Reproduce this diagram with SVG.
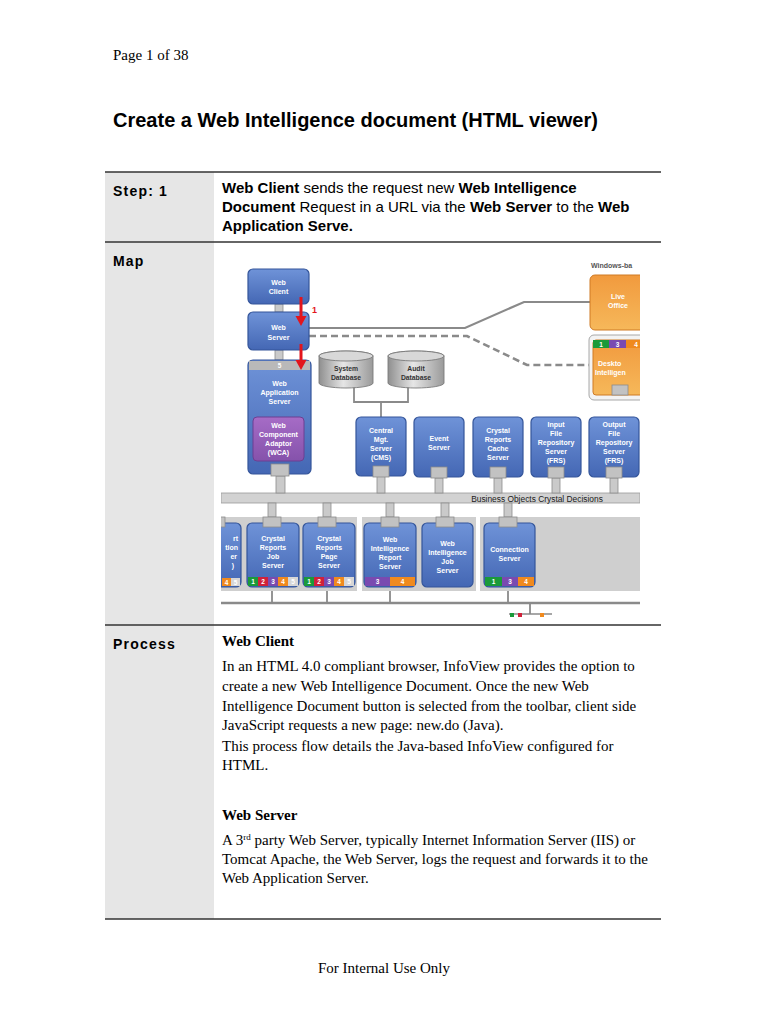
<svg xmlns="http://www.w3.org/2000/svg" width="768" height="1024" viewBox="0 0 768 1024">
<defs>
<linearGradient id="blueG" x1="0" y1="0" x2="0" y2="1"><stop offset="0" stop-color="#6f93d8"/><stop offset="1" stop-color="#4467b4"/></linearGradient>
<linearGradient id="purpleG" x1="0" y1="0" x2="0" y2="1"><stop offset="0" stop-color="#a66cc6"/><stop offset="1" stop-color="#8552ab"/></linearGradient>
<linearGradient id="orangeG" x1="0" y1="0" x2="0" y2="1"><stop offset="0" stop-color="#f19a3e"/><stop offset="1" stop-color="#f6b85a"/></linearGradient>
<linearGradient id="cylG" x1="0" y1="0" x2="1" y2="0"><stop offset="0" stop-color="#8f8f8f"/><stop offset="0.45" stop-color="#e6e6e6"/><stop offset="1" stop-color="#9a9a9a"/></linearGradient>
<clipPath id="mapClip"><rect x="221" y="253" width="419" height="368"/></clipPath>
</defs>
<style>
.box{fill:url(#blueG);stroke:#34559a;stroke-width:1.2}
.wca{fill:url(#purpleG);stroke:#6d3f92;stroke-width:1}
.org{fill:url(#orangeG);stroke:#cf7a25;stroke-width:1}
.lbl{font-family:"Liberation Sans",Arial,sans-serif;font-weight:bold;font-size:7px;fill:#ffffff;text-anchor:middle}
.lbls{font-family:"Liberation Sans",Arial,sans-serif;font-weight:bold;font-size:7px;fill:#ffffff;text-anchor:start}
.lble{font-family:"Liberation Sans",Arial,sans-serif;font-weight:bold;font-size:7px;fill:#ffffff;text-anchor:end}
.tab{font-family:"Liberation Sans",Arial,sans-serif;font-weight:bold;font-size:6.5px;fill:#ffffff;text-anchor:middle}
.dbl{font-family:"Liberation Sans",Arial,sans-serif;font-weight:bold;font-size:6.8px;fill:#333;text-anchor:middle}
.stub{fill:#c2c2c2;stroke:#8c8c8c;stroke-width:0.8}
.pole{fill:#cacaca;stroke:#8c8c8c;stroke-width:0.8}
.ln{stroke:#8a8a8a;stroke-width:2.2;fill:none}
.dash{stroke:#8a8a8a;stroke-width:2.6;fill:none;stroke-dasharray:7 4}
.thin{stroke:#8a8a8a;stroke-width:1.8;fill:none}
.red{stroke:#e3151c;stroke-width:3;fill:none}
.redhead{fill:#e3151c}
.panel{fill:#cfcfcf}
.serif{font-family:"Liberation Serif","Times New Roman",serif;font-size:15px;fill:#000}
.sans{font-family:"Liberation Sans",Arial,sans-serif;font-size:15px;fill:#000}
.head{font-family:"Liberation Sans",Arial,sans-serif;font-weight:bold;font-size:14px;fill:#000;letter-spacing:1.2px}
.rule{stroke:#333;stroke-width:1.5}
</style>
<rect width="768" height="1024" fill="#ffffff"/>
<text class="serif" x="113" y="60" font-size="14">Page 1 of 38</text>
<text x="113" y="127" font-family="Liberation Sans, Arial, sans-serif" font-weight="bold" font-size="20" fill="#000">Create a Web Intelligence document (HTML viewer)</text>
<rect x="105" y="172" width="109" height="747" fill="#e6e6e6"/>
<line class="rule" x1="105" y1="172" x2="661" y2="172"/>
<line class="rule" x1="105" y1="242" x2="661" y2="242"/>
<line class="rule" x1="105" y1="625" x2="661" y2="625"/>
<line class="rule" x1="105" y1="919" x2="661" y2="919"/>
<text class="head" x="113" y="196">Step: 1</text>
<text class="head" x="113" y="266">Map</text>
<text class="head" x="113" y="649">Process</text>
<text class="sans" x="222" y="193"><tspan font-weight="bold">Web Client</tspan> sends the request new <tspan font-weight="bold">Web Intelligence</tspan></text>
<text class="sans" x="222" y="212"><tspan font-weight="bold">Document</tspan> Request in a URL via the <tspan font-weight="bold">Web Server</tspan> to the <tspan font-weight="bold">Web</tspan></text>
<text class="sans" x="222" y="231" font-weight="bold">Application Serve.</text>
<text class="serif" x="222" y="646" font-weight="bold">Web Client</text>
<text class="serif" x="222" y="671">In an HTML 4.0 compliant browser, InfoView provides the option to</text>
<text class="serif" x="222" y="691">create a new Web Intelligence Document. Once the new Web</text>
<text class="serif" x="222" y="711">Intelligence Document button is selected from the toolbar, client side</text>
<text class="serif" x="222" y="730">JavaScript requests a new page: new.do (Java).</text>
<text class="serif" x="222" y="751">This process flow details the Java-based InfoView configured for</text>
<text class="serif" x="222" y="770">HTML.</text>
<text class="serif" x="222" y="820" font-weight="bold">Web Server</text>
<text class="serif" x="222" y="845">A 3<tspan font-size="9" dy="-5">rd</tspan><tspan dy="5"> party Web Server, typically Internet Information Server (IIS) or</tspan></text>
<text class="serif" x="222" y="864">Tomcat Apache, the Web Server, logs the request and forwards it to the</text>
<text class="serif" x="222" y="883">Web Application Server.</text>
<text class="serif" x="384" y="973" font-size="14" text-anchor="middle">For Internal Use Only</text>

<g id="map" clip-path="url(#mapClip)">
<rect x="221" y="253" width="419" height="368" fill="#ffffff"/>
<rect class="panel" x="221" y="517" width="136" height="74"/>
<rect class="panel" x="362" y="517" width="114" height="74"/>
<rect class="panel" x="480" y="517" width="160" height="74"/>
<g id="bus">
<rect x="221" y="493" width="419" height="10" fill="#d2d2d2" stroke="#9a9a9a" stroke-width="0.8"/>
<text x="537" y="501.5" font-family="Liberation Sans, Arial, sans-serif" font-size="8.4" fill="#1a1a1a" text-anchor="middle">Business Objects Crystal Decisions</text>
</g>
<g id="connectors">
<polyline class="ln" points="309,328 465,328 524,302 590,302"/>
<polyline class="dash" points="309,336 467,336 527,365 593,365"/>
<polyline class="thin" points="354,385 354,402 408,402 408,385"/>
<line class="thin" x1="381" y1="402" x2="381" y2="417"/>
<line x1="221" y1="603" x2="640" y2="603" stroke="#8a8a8a" stroke-width="2.6"/>
<line class="thin" x1="272" y1="591" x2="272" y2="603"/>
<line class="thin" x1="327" y1="591" x2="327" y2="603"/>
<line class="thin" x1="390" y1="591" x2="390" y2="603"/>
<line class="thin" x1="508" y1="591" x2="508" y2="603"/>
<line class="thin" x1="530" y1="603" x2="530" y2="614"/>
<line x1="509" y1="614" x2="552" y2="614" stroke="#8a8a8a" stroke-width="1.5"/>
<rect x="510" y="613" width="4" height="4" fill="#1a9a3a"/>
<rect x="518" y="613" width="4" height="4" fill="#d0213a"/>
<rect x="540" y="613" width="4" height="4" fill="#f08a1e"/>
<rect class="pole" x="275" y="304" width="8" height="8"/>
<rect class="pole" x="275" y="350" width="8" height="10"/>
<rect class="pole" x="276" y="476" width="9" height="17"/>
<rect class="pole" x="377" y="476" width="8" height="17"/>
<rect class="pole" x="435" y="478" width="8" height="15"/>
<rect class="pole" x="494" y="478" width="8" height="15"/>
<rect class="pole" x="552" y="478" width="8" height="15"/>
<rect class="pole" x="610" y="478" width="8" height="15"/>
<rect class="pole" x="212" y="503" width="8" height="14"/>
<rect class="pole" x="268" y="503" width="8" height="14"/>
<rect class="pole" x="323" y="503" width="8" height="14"/>
<rect class="pole" x="386" y="503" width="8" height="14"/>
<rect class="pole" x="441" y="503" width="8" height="14"/>
<rect class="pole" x="504" y="503" width="8" height="14"/>
</g>
<text x="591" y="268" font-family="Liberation Sans, Arial, sans-serif" font-weight="bold" font-size="7" fill="#555">Windows-ba</text>
<g id="web-client">
<rect class="box" x="248" y="269" width="61" height="35" rx="5"/>
<text class="lbl" x="278.5" y="285">Web</text>
<text class="lbl" x="278.5" y="294">Client</text>
</g>
<g id="web-server">
<rect class="box" x="248" y="312" width="61" height="38" rx="5"/>
<text class="lbl" x="278.5" y="330">Web</text>
<text class="lbl" x="278.5" y="340">Server</text>
</g>
<g id="web-app-server">
<rect class="box" x="248" y="360" width="63" height="114" rx="5"/>
<rect x="249" y="361" width="61" height="9" fill="#b9b9b9"/>
<text class="tab" x="279.5" y="368">5</text>
<text class="lbl" x="279.5" y="386">Web</text>
<text class="lbl" x="279.5" y="395">Application</text>
<text class="lbl" x="279.5" y="404">Server</text>
<rect class="stub" x="271" y="464" width="18" height="12"/>
</g>
<g id="step-arrows">
<line class="red" x1="301" y1="297" x2="301" y2="317"/>
<polygon class="redhead" points="295.5,316 306.5,316 301,326"/>
<line class="red" x1="301" y1="344" x2="301" y2="361"/>
<polygon class="redhead" points="295.5,360 306.5,360 301,370"/>
<text x="312" y="313" font-family="Liberation Sans, Arial, sans-serif" font-weight="bold" font-size="9" fill="#e3151c">1</text>
</g>
<g id="wca">
<rect class="wca" x="253" y="417" width="51" height="44" rx="4"/>
<text class="lbl" x="278.5" y="428">Web</text>
<text class="lbl" x="278.5" y="437">Component</text>
<text class="lbl" x="278.5" y="446">Adaptor</text>
<text class="lbl" x="278.5" y="455">(WCA)</text>
</g>
<g id="system-db">
<path d="M319,356 a27,5 0 0 1 54,0 v27 a27,5 0 0 1 -54,0 z" fill="url(#cylG)" stroke="#7a7a7a" stroke-width="0.9"/>
<ellipse cx="346" cy="356" rx="27" ry="5" fill="#d8d8d8" stroke="#7a7a7a" stroke-width="0.9"/>
<text class="dbl" x="346" y="371">System</text>
<text class="dbl" x="346" y="380">Database</text>
</g>
<g id="audit-db">
<path d="M388,356 a28,5 0 0 1 56,0 v27 a28,5 0 0 1 -56,0 z" fill="url(#cylG)" stroke="#7a7a7a" stroke-width="0.9"/>
<ellipse cx="416" cy="356" rx="28" ry="5" fill="#d8d8d8" stroke="#7a7a7a" stroke-width="0.9"/>
<text class="dbl" x="416" y="371">Audit</text>
<text class="dbl" x="416" y="380">Database</text>
</g>
<g id="cms">
<rect class="box" x="356" y="417" width="50" height="59" rx="5"/>
<text class="lbl" x="381" y="433">Central</text>
<text class="lbl" x="381" y="442">Mgt.</text>
<text class="lbl" x="381" y="451">Server</text>
<text class="lbl" x="381" y="460">(CMS)</text>
<rect class="stub" x="373" y="466" width="16" height="11"/>
</g>
<g id="event-server">
<rect class="box" x="414" y="417" width="50" height="60" rx="5"/>
<text class="lbl" x="439" y="441">Event</text>
<text class="lbl" x="439" y="450">Server</text>
<rect class="stub" x="431" y="467" width="16" height="11"/>
</g>
<g id="cache-server">
<rect class="box" x="473" y="417" width="50" height="60" rx="5"/>
<text class="lbl" x="498" y="433">Crystal</text>
<text class="lbl" x="498" y="442">Reports</text>
<text class="lbl" x="498" y="451">Cache</text>
<text class="lbl" x="498" y="460">Server</text>
<rect class="stub" x="490" y="467" width="16" height="11"/>
</g>
<g id="input-frs">
<rect class="box" x="531" y="417" width="50" height="60" rx="5"/>
<text class="lbl" x="556" y="427">Input</text>
<text class="lbl" x="556" y="436">File</text>
<text class="lbl" x="556" y="445">Repository</text>
<text class="lbl" x="556" y="454">Server</text>
<text class="lbl" x="556" y="463">(FRS)</text>
<rect class="stub" x="548" y="467" width="16" height="11"/>
</g>
<g id="output-frs">
<rect class="box" x="589" y="417" width="50" height="60" rx="5"/>
<text class="lbl" x="614" y="427">Output</text>
<text class="lbl" x="614" y="436">File</text>
<text class="lbl" x="614" y="445">Repository</text>
<text class="lbl" x="614" y="454">Server</text>
<text class="lbl" x="614" y="463">(FRS)</text>
<rect class="stub" x="606" y="467" width="16" height="11"/>
</g>
<g id="live-office">
<rect class="org" x="590" y="275" width="60" height="55" rx="5"/>
<text class="lbl" x="618" y="299">Live</text>
<text class="lbl" x="618" y="308">Office</text>
</g>
<g id="desktop-intelligence">
<rect x="589" y="335" width="62" height="65" rx="5" fill="#f3f3f3" stroke="#a8a8a8" stroke-width="1"/>
<rect class="org" x="593" y="340" width="54" height="55" rx="3"/>
<rect x="593" y="340" width="16" height="8" fill="#1a9a3a"/>
<rect x="609" y="340" width="17" height="8" fill="#7a4ab0"/>
<rect x="626" y="340" width="17" height="8" fill="#f08a1e"/>
<text class="tab" x="601" y="346.5">1</text>
<text class="tab" x="617.5" y="346.5">3</text>
<text class="tab" x="636" y="346.5">4</text>
<text class="lbls" x="598" y="366">Deskto</text>
<text class="lbls" x="595" y="375">Intelligen</text>
<rect class="stub" x="612" y="385" width="16" height="10"/>
</g>
<g id="ras">
<rect class="box" x="190" y="523" width="51" height="64" rx="5"/>
<text class="lble" x="238" y="541">rt</text>
<text class="lble" x="238" y="550">tion</text>
<text class="lble" x="237" y="559">er</text>
<text class="lble" x="234" y="568">)</text>
<rect x="222" y="578" width="9" height="8" fill="#f08a1e"/>
<rect x="231" y="578" width="9" height="8" fill="#d6d6d6"/>
<text class="tab" x="226.5" y="584.5">4</text>
<text class="tab" x="235.5" y="584.5">5</text>
<rect class="stub" x="207" y="517" width="18" height="10"/>
</g>
<g id="job-server">
<rect class="box" x="247" y="523" width="52" height="64" rx="5"/>
<text class="lbl" x="273" y="541">Crystal</text>
<text class="lbl" x="273" y="550">Reports</text>
<text class="lbl" x="273" y="559">Job</text>
<text class="lbl" x="273" y="568">Server</text>
<rect x="248" y="577" width="10" height="9" fill="#1a9a3a"/>
<rect x="258" y="577" width="10" height="9" fill="#d0213a"/>
<rect x="268" y="577" width="10" height="9" fill="#7a4ab0"/>
<rect x="278" y="577" width="10" height="9" fill="#f08a1e"/>
<rect x="288" y="577" width="10" height="9" fill="#d6d6d6"/>
<text class="tab" x="253" y="584">1</text>
<text class="tab" x="263" y="584">2</text>
<text class="tab" x="273" y="584">3</text>
<text class="tab" x="283" y="584">4</text>
<text class="tab" x="293" y="584">5</text>
<rect class="stub" x="263" y="517" width="18" height="10"/>
</g>
<g id="page-server">
<rect class="box" x="303" y="523" width="52" height="64" rx="5"/>
<text class="lbl" x="329" y="541">Crystal</text>
<text class="lbl" x="329" y="550">Reports</text>
<text class="lbl" x="329" y="559">Page</text>
<text class="lbl" x="329" y="568">Server</text>
<rect x="304" y="577" width="10" height="9" fill="#1a9a3a"/>
<rect x="314" y="577" width="10" height="9" fill="#d0213a"/>
<rect x="324" y="577" width="10" height="9" fill="#7a4ab0"/>
<rect x="334" y="577" width="10" height="9" fill="#f08a1e"/>
<rect x="344" y="577" width="10" height="9" fill="#d6d6d6"/>
<text class="tab" x="309" y="584">1</text>
<text class="tab" x="319" y="584">2</text>
<text class="tab" x="329" y="584">3</text>
<text class="tab" x="339" y="584">4</text>
<text class="tab" x="349" y="584">5</text>
<rect class="stub" x="318" y="517" width="18" height="10"/>
</g>
<g id="wi-report-server">
<rect class="box" x="364" y="523" width="52" height="64" rx="5"/>
<text class="lbl" x="390" y="542">Web</text>
<text class="lbl" x="390" y="551">Intelligence</text>
<text class="lbl" x="390" y="560">Report</text>
<text class="lbl" x="390" y="569">Server</text>
<rect x="365" y="577" width="25" height="9" fill="#7a4ab0"/>
<rect x="390" y="577" width="25" height="9" fill="#f08a1e"/>
<text class="tab" x="377.5" y="584">3</text>
<text class="tab" x="402.5" y="584">4</text>
<rect class="stub" x="381" y="517" width="18" height="10"/>
</g>
<g id="wi-job-server">
<rect class="box" x="422" y="523" width="51" height="64" rx="5"/>
<text class="lbl" x="447.5" y="546">Web</text>
<text class="lbl" x="447.5" y="555">Intelligence</text>
<text class="lbl" x="447.5" y="564">Job</text>
<text class="lbl" x="447.5" y="573">Server</text>
<rect class="stub" x="436" y="517" width="18" height="10"/>
</g>
<g id="connection-server">
<rect class="box" x="484" y="523" width="51" height="64" rx="5"/>
<text class="lbl" x="509.5" y="552">Connection</text>
<text class="lbl" x="509.5" y="561">Server</text>
<rect x="485" y="577" width="17" height="9" fill="#1a9a3a"/>
<rect x="502" y="577" width="16" height="9" fill="#7a4ab0"/>
<rect x="518" y="577" width="16" height="9" fill="#f08a1e"/>
<text class="tab" x="493.5" y="584">1</text>
<text class="tab" x="510" y="584">3</text>
<text class="tab" x="526" y="584">4</text>
<rect class="stub" x="499" y="517" width="18" height="10"/>
</g>
</g>
</svg>
